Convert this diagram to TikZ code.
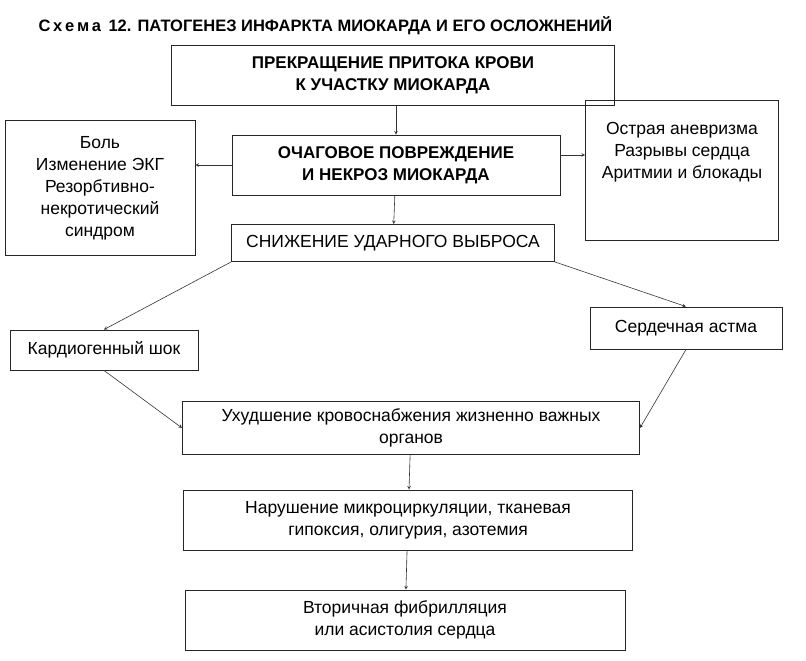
\documentclass[tikz,border=0pt]{standalone}
\usepackage{fontspec}
\setmainfont{Liberation Sans}
\usetikzlibrary{arrows}
\tikzstyle{blk} = [draw=black!85, line width=0.9pt, align=center, inner sep=2pt, font=\fontsize{17.5}{22}\selectfont]
\tikzstyle{bblk} = [blk, font=\bfseries\fontsize{17}{22}\selectfont]
\tikzstyle{arrow} = [->,>=stealth, line width=0.6pt, black!80]

\begin{document}
\begin{tikzpicture}[x=1pt, y=-1pt]

  \useasboundingbox (0,0) rectangle (806,661);

  % title
  \node[anchor=west] (title) at (35,26) {\bfseries\fontsize{16.5}{20}\selectfont С\,х\,е\,м\,а\, 12. ПАТОГЕНЕЗ ИНФАРКТА МИОКАРДА И ЕГО ОСЛОЖНЕНИЙ};

  % boxes
  \node[bblk, minimum width=443, minimum height=60] (stop) at (393,75) {ПРЕКРАЩЕНИЕ ПРИТОКА КРОВИ\\К УЧАСТКУ МИОКАРДА};
  \node[bblk, minimum width=328, minimum height=60] (necr) at (396,165) {ОЧАГОВОЕ ПОВРЕЖДЕНИЕ\\И НЕКРОЗ МИОКАРДА};
  \node[blk, minimum width=190, minimum height=135] (pain) at (100,188) {Боль\\Изменение ЭКГ\\Резорбтивно-\\некротический\\синдром};
  \node[blk, minimum width=193, minimum height=140, text depth=40pt] (compl) at (682,170) {Острая аневризма\\Разрывы сердца\\Аритмии и блокады};
  \node[blk, minimum width=323, minimum height=37] (eject) at (393,243) {СНИЖЕНИЕ УДАРНОГО ВЫБРОСА};
  \node[blk, minimum width=188, minimum height=40] (shock) at (104,350) {Кардиогенный шок};
  \node[blk, minimum width=192, minimum height=42] (asthma) at (686,328) {Сердечная астма};
  \node[blk, minimum width=457, minimum height=53] (supply) at (411,428) {Ухудшение кровоснабжения жизненно важных\\органов};
  \node[blk, minimum width=449, minimum height=60] (micro) at (408,520) {Нарушение микроциркуляции, тканевая\\гипоксия, олигурия, азотемия};
  \node[blk, minimum width=440, minimum height=60] (fibr) at (405,620) {Вторичная фибрилляция\\или асистолия сердца};

  % connectors
  \draw[arrow] (stop.south -| necr) -- (necr);
  \draw[arrow] (necr.west) -- (necr.west -| pain.east);
  \draw[arrow] (necr.east) ++(0,-10) coordinate (ne) -- (ne -| compl.west);
  \draw[arrow] (necr) -- (eject);
  \draw[arrow] (eject.south west) -- (shock.north);
  \draw[arrow] (eject.south east) -- (asthma.north);
  \draw[arrow] (shock.south) -- (supply.west);
  \draw[arrow] (asthma.south) -- (supply.east);
  \draw[arrow] (supply) -- (micro);
  \draw[arrow] (micro) -- (fibr);

\end{tikzpicture}
\end{document}
